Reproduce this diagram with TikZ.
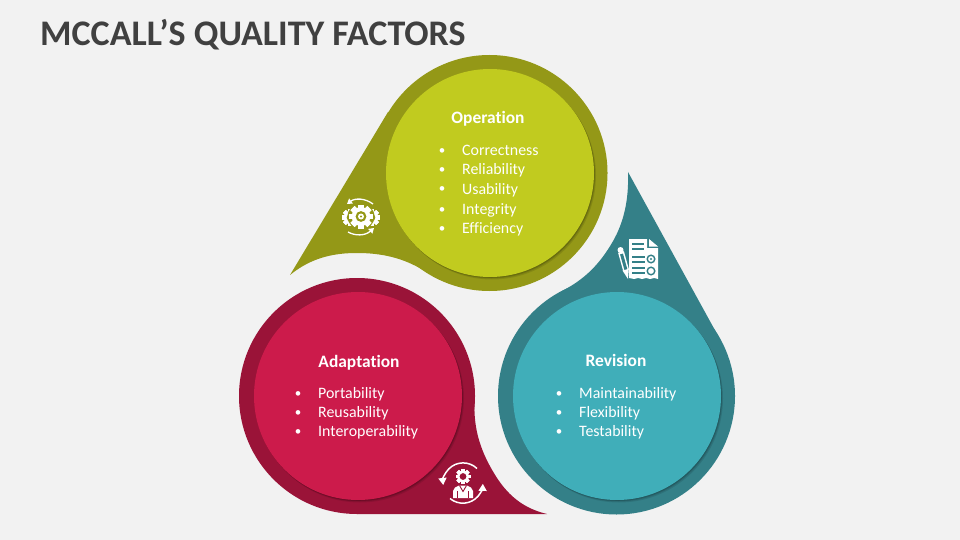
\documentclass[tikz,border=0pt]{standalone}
\usepackage{fontspec}
\setmainfont{Carlito}[Ligatures=NoCommon]
\usetikzlibrary{arrows.meta}
\definecolor{pageGrey}{HTML}{F2F2F2}
\definecolor{titleGrey}{HTML}{404040}
\definecolor{oliveDark}{HTML}{949817}
\definecolor{oliveLight}{HTML}{C1CB1F}
\definecolor{tealDark}{HTML}{348088}
\definecolor{tealLight}{HTML}{40AEB9}
\definecolor{redDark}{HTML}{9A1338}
\definecolor{redLight}{HTML}{CC1B4B}
\tikzset{
  heading/.style={text=white,font=\fontsize{17.4}{20}\selectfont\bfseries,anchor=base,inner sep=0pt},
  entry/.style={text=white,font=\fontsize{15.9}{18}\selectfont,anchor=base west,inner sep=0pt},
  dot/.style={text=white,font=\fontsize{13}{18}\selectfont,anchor=base,inner sep=0pt,yshift=1pt},
  iconline/.style={draw=white,line width=1.3pt},
  iconarrow/.style={iconline,-{Triangle[length=5pt,width=6pt]}},
  bigarrow/.style={draw=white,line width=1.5pt,-{Triangle[length=7pt,width=8pt]}}
}
% gear: x, y, radius, hole colour
\newcommand{\gearicon}[4]{
  \fill[#4] (#1,#2) circle[radius=1.12*#3 pt];
  \foreach \a in {0,45,...,315} {
    \fill[white,rotate around={\a:(#1,#2)}] (#1-0.24*#3,#2-#3) rectangle (#1+0.24*#3,#2+#3);
  }
  \fill[white] (#1,#2) circle[radius=0.78*#3 pt];
  \fill[#4] (#1,#2) circle[radius=0.45*#3 pt];
}
% soft edge under a disc
\newcommand{\discshadow}[2]{
  \fill[black,opacity=0.10] (#1+2,#2+2.5) circle[radius=104pt];
  \fill[black,opacity=0.12] (#1+1.2,#2+1.5) circle[radius=104pt];
  \fill[black,opacity=0.12] (#1+0.6,#2+0.8) circle[radius=104pt];
}
\begin{document}
\begin{tikzpicture}[x=1pt,y=-1pt]
  \useasboundingbox (0,0) rectangle (960,540);
  \fill[pageGrey] (0,0) rectangle (960,540);
  \node[text=titleGrey,font=\fontsize{36}{40}\selectfont\bfseries,anchor=base west,inner sep=0pt] (title) at (40,46) {MCCALL’S QUALITY FACTORS};

  % operation
  \fill[oliveDark] (489.5,173) circle[radius=118pt];
  \fill[oliveDark] (290,275) -- (388,112) -- (489,173) -- (423,270)
    .. controls (403,258) and (382,253) .. (357,253)
    .. controls (335,253) and (312,257) .. (290,275) -- cycle;
  \discshadow{490}{173}
  \fill[oliveLight] (490,173) circle[radius=104pt];
  \node[heading] (operation) at (488,124) {Operation};
  \foreach \name/\ypos/\txt in {correctness/156/Correctness,reliability/175/Reliability,usability/194/Usability,integrity/214/Integrity,efficiency/233/Efficiency} {
    \node[dot] (\name dot) at (442,\ypos) {•};
    \node[entry] (\name) at (462,\ypos) {\txt};
  }

  % revision
  \fill[tealDark] (616.5,396) circle[radius=118.5pt];
  \fill[tealDark] (628,172) -- (720,339.4) -- (616,396) -- (562,291)
    .. controls (585.4,279) and (600.2,263.3) .. (612.7,241.7)
    .. controls (623.7,222.6) and (629,200) .. (628,172) -- cycle;
  \discshadow{617}{396}
  \fill[tealLight] (617,396) circle[radius=104pt];
  \node[heading] (revision) at (616,366) {Revision};
  \foreach \name/\ypos/\txt in {maintainability/398/Maintainability,flexibility/417/Flexibility,testability/436/Testability} {
    \node[dot] (\name dot) at (559,\ypos) {•};
    \node[entry] (\name) at (579,\ypos) {\txt};
  }

  % adaptation
  \fill[redDark] (357,396) circle[radius=118pt];
  \fill[redDark] (547,514) -- (357,514) -- (357,396) -- (474.5,402)
    .. controls (473.6,428) and (479.8,448.7) .. (492.3,470.3)
    .. controls (503.3,489.4) and (518.2,507.3) .. (547,514) -- cycle;
  \discshadow{358}{396}
  \fill[redLight] (358,396) circle[radius=104pt];
  \node[heading] (adaptation) at (359,367) {Adaptation};
  \foreach \name/\ypos/\txt in {portability/398/Portability,reusability/417/Reusability,interoperability/436/Interoperability} {
    \node[dot] (\name dot) at (298,\ypos) {•};
    \node[entry] (\name) at (318,\ypos) {\txt};
  }

  % gears icon
  \gearicon{350.5}{217.5}{8.5}{oliveDark}
  \gearicon{371.5}{217.5}{8.5}{oliveDark}
  \gearicon{361}{216.5}{12}{oliveDark}
  \fill[white] (361,216.5) circle[radius=3pt];
  \fill[oliveDark] (361,216.5) circle[radius=1.2pt];
  \draw[iconarrow] (373,204) .. controls (365,198) and (355,198) .. (347,204);
  \draw[iconarrow] (348,232) .. controls (355,236) and (365,236) .. (374,228);

  % document icon
  \fill[white] (629,239) -- (647,239) -- (647,248) -- (658,248) -- (658,279)
    -- (654,278) -- (650,279) -- (646,278) -- (642,279) -- (638,278) -- (634,279) -- (629,278) -- cycle;
  \fill[white] (649,239) -- (658,246.5) -- (649,246.5) -- cycle;
  \foreach \ypos/\xend in {244/644,249/644,257/645,262/645,268/645,273/645} {
    \draw[tealDark,line width=1.2pt] (632,\ypos) -- (\xend,\ypos);
  }
  \draw[tealDark,line width=1.4pt] (651,259) circle[radius=3.8pt];
  \draw[tealDark,line width=1.4pt] (651,271) circle[radius=3.8pt];
  \fill[tealDark] (651,259) circle[radius=1.2pt];
  \draw[white,line width=6pt] (621,252) -- (626,270);
  \draw[tealDark,line width=3pt] (621.5,254) -- (626,270);
  \fill[white] (622.5,270.5) -- (628.8,268.8) -- (628,279) -- cycle;
  \fill[white] (620.5,250) circle[radius=3pt];

  % person icon
  \gearicon{463}{476.5}{7.5}{redDark}
  \fill[white] (453,498) -- (453,491) .. controls (453,488) and (456,487) .. (459,485.5)
    -- (467,485.5) .. controls (470,487) and (473,488) .. (473,491) -- (473,498) -- cycle;
  \draw[redDark,line width=0.9pt] (459.5,485.5) -- (463,491.5) -- (466.5,485.5);
  \draw[redDark,line width=0.9pt] (457.5,491) -- (457.5,498);
  \draw[redDark,line width=0.9pt] (468.5,491) -- (468.5,498);
  \draw[bigarrow] (477,468.5) arc[start angle=46,end angle=186,radius=20pt];
  \draw[bigarrow] (450,498.5) arc[start angle=230,end angle=358,radius=20pt];
\end{tikzpicture}
\end{document}
